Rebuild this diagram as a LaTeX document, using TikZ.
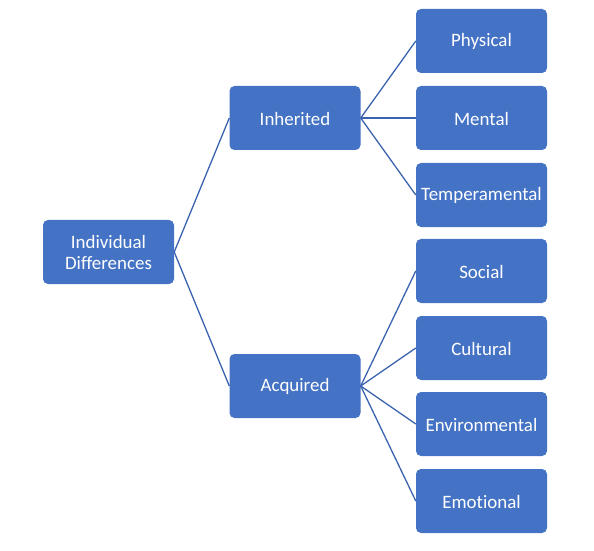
\documentclass[tikz,border=0pt]{standalone}
\usepackage{fontspec}
\setmainfont[Ligatures=NoCommon]{Carlito}
\definecolor{boxblue}{HTML}{4472C4}
\definecolor{lineblue}{HTML}{3B63AE}
\begin{document}
\begin{tikzpicture}[x=1bp,y=-1bp,
  box/.style={fill=boxblue,draw=none,rounded corners=5bp,minimum width=131bp,minimum height=64bp,
    text=white,font=\fontsize{19}{20.7}\selectfont,align=center,inner sep=0pt},
  lbl/.style={text=white,font=\fontsize{19}{20.7}\selectfont,align=center,inner sep=0pt},
  link/.style={draw=lineblue,line width=1.3bp}]
\useasboundingbox (0,0) rectangle (594,551);
\node[box] (root) at (108.5,252) {};
\node[box] (inh) at (295,118) {};
\node[box] (acq) at (295,386) {};
\node[box] (phy) at (481.5,41) {};
\node[box] (men) at (481.5,118) {};
\node[box] (tem) at (481.5,195) {};
\node[box] (soc) at (481.5,271) {};
\node[box] (cul) at (481.5,348) {};
\node[box] (env) at (481.5,424) {};
\node[box] (emo) at (481.5,501) {};
\node[lbl] (troot) at ([yshift=-0.5bp]root.center) {Individual\\Differences};
\node[lbl] (tinh) at ([yshift=-0.5bp]inh.center) {Inherited};
\node[lbl] (tacq) at ([yshift=-0.5bp]acq.center) {Acquired};
\node[lbl] (tphy) at ([yshift=-0.5bp]phy.center) {Physical};
\node[lbl] (tmen) at ([yshift=-0.5bp]men.center) {Mental};
\node[lbl] (ttem) at ([yshift=-0.5bp]tem.center) {Temperamental};
\node[lbl] (tsoc) at ([yshift=-0.5bp]soc.center) {Social};
\node[lbl] (tcul) at ([yshift=-0.5bp]cul.center) {Cultural};
\node[lbl] (tenv) at ([yshift=-0.5bp]env.center) {Environmental};
\node[lbl] (temo) at ([yshift=-0.5bp]emo.center) {Emotional};
\draw[link] (inh.west) -- (root.east) -- (acq.west);
\foreach \c in {phy,men,tem} \draw[link] (inh.east) -- (\c.west);
\foreach \c in {soc,cul,env,emo} \draw[link] (acq.east) -- (\c.west);
\end{tikzpicture}
\end{document}
